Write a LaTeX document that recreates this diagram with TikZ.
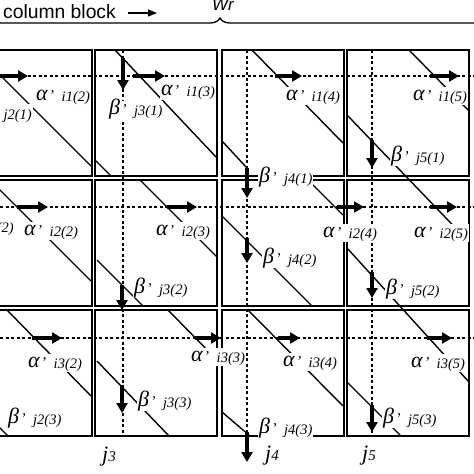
\documentclass[tikz,border=0pt]{standalone}
\usepackage{fontspec}
\setmainfont{Liberation Serif}
\setsansfont{Liberation Sans}
\usepackage{tikz}
\usetikzlibrary{arrows.meta}
\usetikzlibrary{decorations.pathreplacing}

\newcommand{\glab}[2]{{\fontsize{22}{22}\selectfont\itshape #1}\hspace{2.5pt}{\fontsize{15}{15}\selectfont ’}\hspace{6.5pt}\raisebox{-1.5pt}{\fontsize{14.5}{14.5}\selectfont\itshape #2}}
\newcommand{\jlab}[1]{{\fontsize{22}{22}\selectfont\itshape j}{\fontsize{15}{15}\selectfont\itshape #1}}

\tikzset{
    blockbox/.style={line width=1.7pt},
    guide/.style={line width=1.1pt, dash pattern=on 3pt off 2.5pt},
    diag/.style={line width=1.4pt},
    lab/.style={fill=white, inner xsep=1pt, inner ysep=0.5pt, text height=13pt, text depth=4.5pt},
    alpharrow/.style={line width=3.6pt, -{Triangle[length=10pt,width=11pt]}},
}

\begin{document}
\begin{tikzpicture}[x=1pt,y=-1pt]
            \path[use as bounding box, clip] (0,0) rectangle (474,474);
            % column block header
            \node[anchor=base west, inner sep=0pt] (colblk) at (3,18) {\sffamily\fontsize{19.3}{19.3}\selectfont column block};
            \draw[line width=1.3pt, -{Triangle[length=9pt,width=7pt]}] (128,13) -- (157,13);
            \node[anchor=base, inner sep=0pt] (wr) at (223,10) {\sffamily\itshape\fontsize{17}{17}\selectfont Wr};
            \draw[line width=1.3pt, decorate, decoration={brace, amplitude=10pt}] (-300,28) -- (740,28);
            % blocks
            \foreach \bx in {-30,95,222,347} {
                \foreach \by in {50,180,310} {
                    \draw[blockbox] (\bx,\by) rectangle ++(122,126);
                }
            }
            \foreach \dy in {76,207,338} {
                \draw[guide] (0,\dy) -- (474,\dy);
            }
            \foreach \dx in {123,247,372} {
                \draw[guide] (\dx,50) -- (\dx,436);
            }
            % diagonals
            \draw[diag] (-5,70) -- (91,166);
            \draw[diag] (115,50) -- (217,158);
            \draw[diag] (95,160) -- (111,176);
            \draw[diag] (252,50) -- (343,143);
            \draw[diag] (222,141) -- (247,168);
            \draw[diag] (409,50) -- (469,111);
            \draw[diag] (347,115) -- (469,242);
            \draw[diag] (-5,185) -- (91,281);
            \draw[diag] (140,180) -- (217,257);
            \draw[diag] (97,260) -- (143,306);
            \draw[diag] (308,180) -- (343,215);
            \draw[diag] (222,216) -- (312,306);
            \draw[diag] (347,248) -- (469,382);
            \draw[diag] (7,310) -- (91,396);
            \draw[diag] (-20,408) -- (8,436);
            \draw[diag] (168,310) -- (217,360);
            \draw[diag] (97,361) -- (169,436);
            \draw[diag] (248,310) -- (343,406);
            \draw[diag] (222,412) -- (250,436);
            \draw[diag] (347,382) -- (401,436);
            % labels
            \foreach \lx/\ly/\gk/\ix in {35/100/α/i1(2), 160/95/α/i1(3), 285/100/α/i1(4), 412/100/α/i1(5),
                    23/235/α/i2(2), 155/235/α/i2(3), 322/237/α/i2(4), 413/237/α/i2(5),
                    27/367/α/i3(2), 190/361/α/i3(3), 282/366/α/i3(4), 410/367/α/i3(5),
                    108/114/β/j3(1), 258/182/β/j4(1), 390/161/β/j5(1),
                    133/293/β/j3(2), 262/263/β/j4(2), 385/294/β/j5(2),
                    7/423/β/j2(3), 137/406/β/j3(3), 258/433/β/j4(3), 382/423/β/j5(3)} {
                \node[lab, anchor=base west] at (\lx,\ly) {\glab{\gk}{\ix}};
            }
            \node[lab, anchor=base east] at (33,117.5) {\glab{β}{j2(1)}};
            \node[lab, anchor=base east] at (15,230.5) {\glab{β}{j2(2)}};
            \node[anchor=base west, inner sep=0pt] at (102,461) {\jlab{3}};
            \node[anchor=base west, inner sep=0pt] at (265,460) {\jlab{4}};
            \node[anchor=base west, inner sep=0pt] at (362,460) {\jlab{5}};
            % arrows
            \foreach \xa/\xb/\ya in {-5/28/76, 133/165/76, 275/302/76, 430/459/76,
                    17/48/207, 167/197/207, 337/364/207, 430/457/207,
                    32/62/338, 195/221/338, 278/300/338, 427/452/338} {
                \draw[alpharrow] (\xa,\ya) -- (\xb,\ya);
            }
            \foreach \xb/\ya/\yb in {123/58/90, 247/168/198, 372/140/168,
                    122/285/310, 247/238/263, 372/272/298,
                    122/385/413, 247/432/462, 372/405/432} {
                \draw[alpharrow] (\xb,\ya) -- (\xb,\yb);
            }
        \end{tikzpicture}
\end{document}
